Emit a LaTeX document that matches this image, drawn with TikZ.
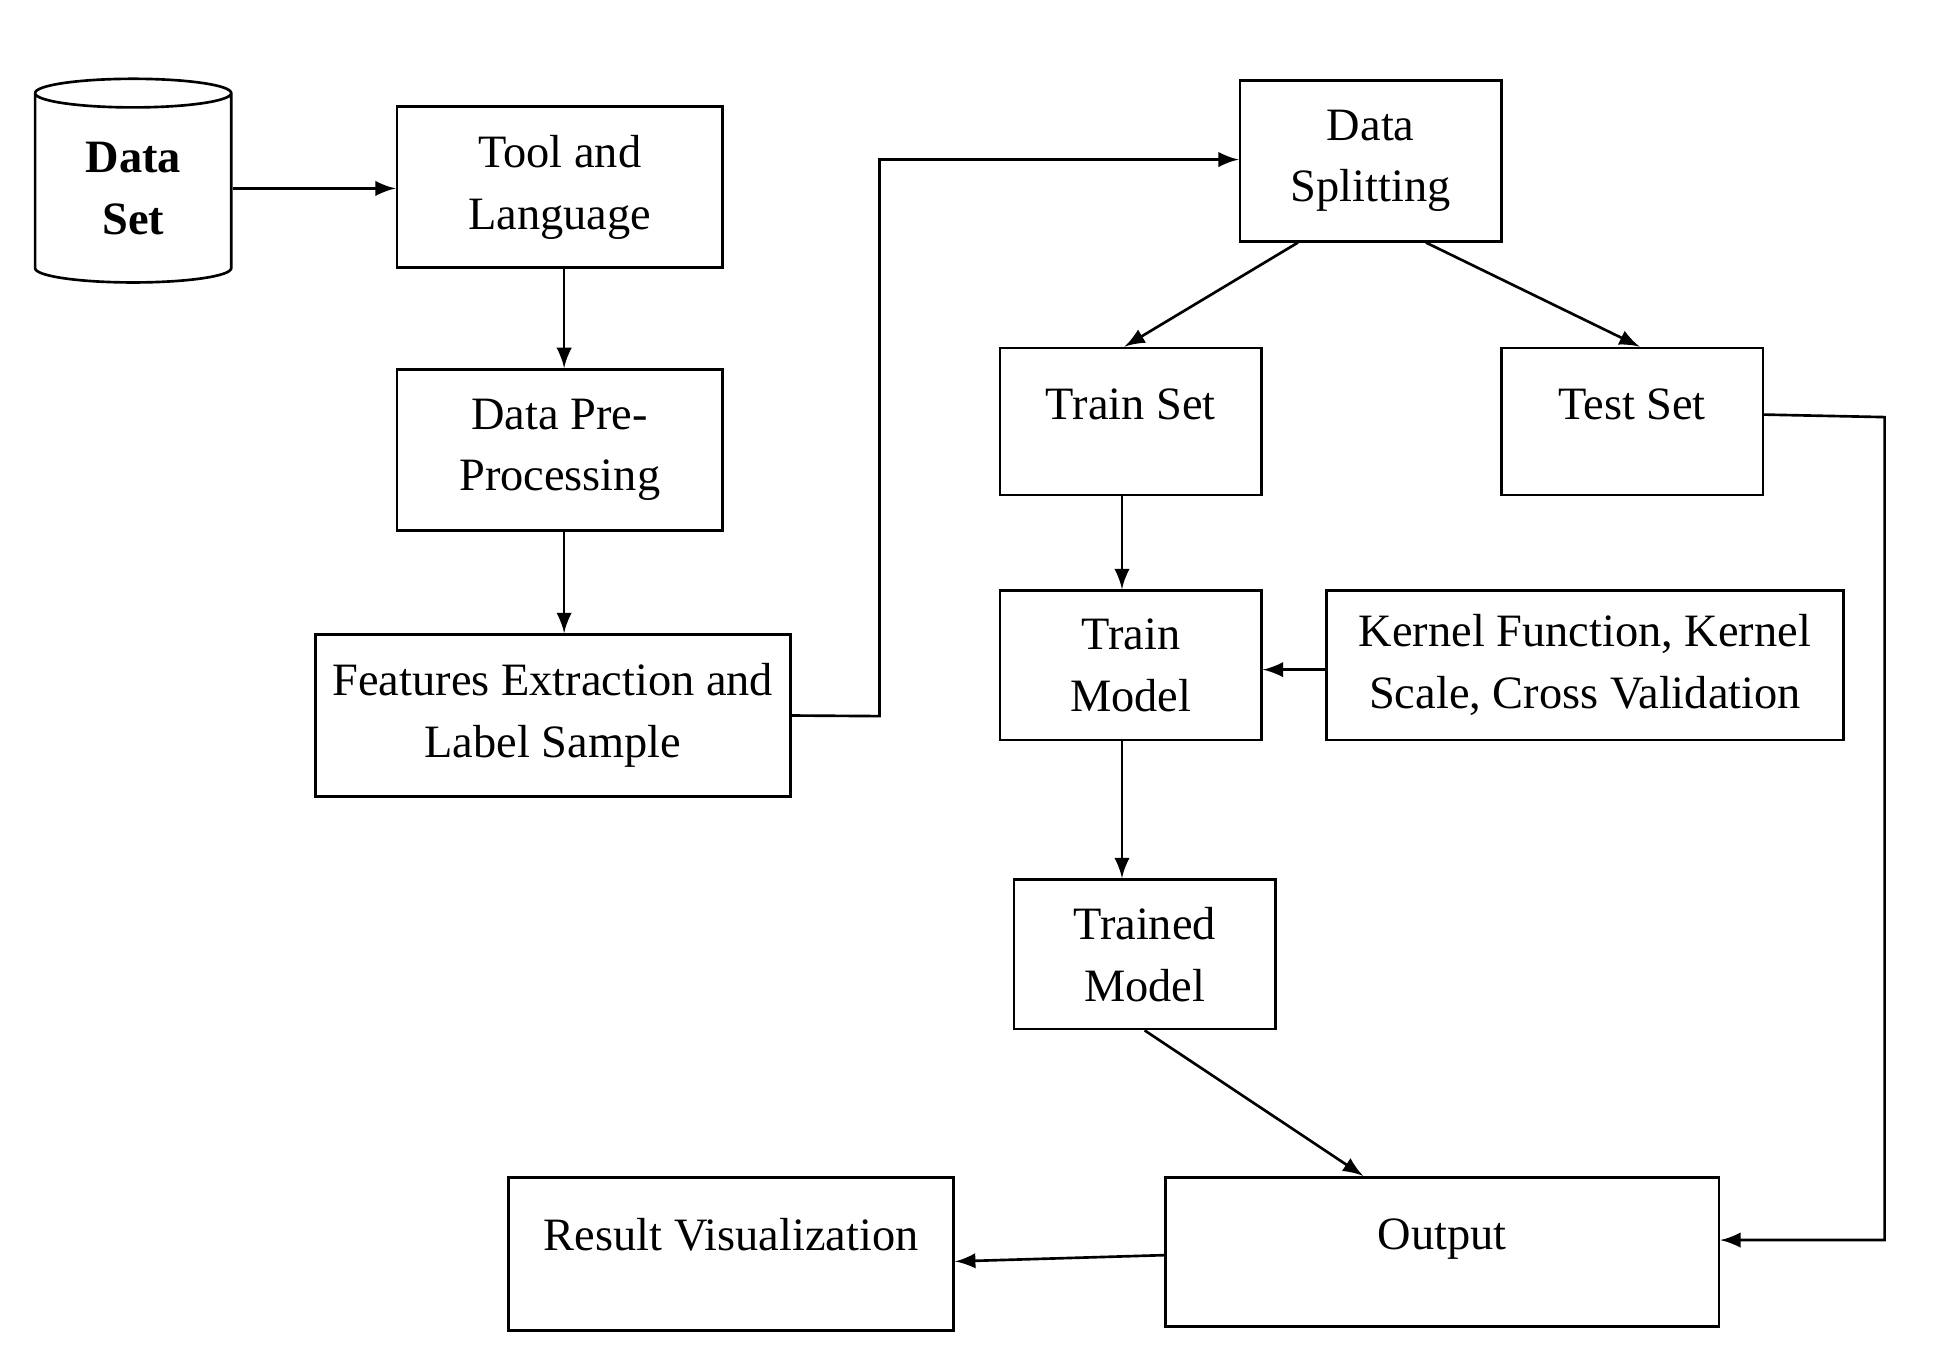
\documentclass[tikz,border=0pt]{standalone}
\usepackage{fontspec}
\setmainfont{Liberation Serif}
\usetikzlibrary{arrows,shapes.geometric}

\begin{document}
\begin{tikzpicture}[x=0.01cm,y=-0.01cm,->,>=latex,semithick,
                    txt/.style={font=\fontsize{10.5}{14}\selectfont},
                    box/.style={draw,-,rectangle,align=center,inner sep=0pt,txt},
                    topbox/.style={box,label={[anchor=north,yshift=-6pt,txt]north:#1}},
                    db/.style={draw,-,cylinder,shape border rotate=90,aspect=0.3,
                               minimum width=1.56cm,minimum height=1.62cm,align=center,
                               inner sep=0pt,font=\fontsize{10.5}{14}\selectfont\bfseries}]
  \useasboundingbox (0,0) rectangle (1560,1083);

  \node[db]  (data)   at (106,150)   {Data\\Set};
  \node[box,minimum width=2.59cm,minimum height=1.28cm] (tool)   at (445.5,149) {Tool and\\Language};
  \node[box,minimum width=2.59cm,minimum height=1.28cm] (prep)   at (445.5,358) {Data Pre-\\Processing};
  \node[box,minimum width=3.78cm,minimum height=1.29cm] (feat)   at (440,569.5) {Features Extraction and\\Label Sample};
  \node[box,minimum width=2.08cm,minimum height=1.28cm] (split)  at (1091,128)  {Data\\Splitting};
  \node[topbox=Train Set,minimum width=2.08cm,minimum height=1.17cm] (trainset) at (900,335.5) {};
  \node[topbox=Test Set,minimum width=2.08cm,minimum height=1.17cm] (testset)  at (1299,335.5) {};
  \node[box,minimum width=2.08cm,minimum height=1.19cm] (train)  at (900,529.5)  {Train\\Model};
  \node[box,minimum width=4.11cm,minimum height=1.19cm] (kernel) at (1261.5,529.5) {Kernel Function, Kernel\\Scale, Cross Validation};
  \node[box,minimum width=2.08cm,minimum height=1.19cm] (trained) at (911,759.5) {Trained\\Model};
  \node[topbox=Output,minimum width=4.40cm,minimum height=1.19cm] (output) at (1148,996.5) {};
  \node[topbox=Result Visualization,minimum width=3.54cm,minimum height=1.22cm] (result) at (582,998) {};

  \draw (data.east) -- (tool.west |- data.east);
  \draw (tool.south -| 449,0) -- (prep.north -| 449,0);
  \draw (prep.south -| 449,0) -- (feat.north -| 449,0);
  \draw (feat.east) -- (700,570) -- (700,127) -- (split.west |- 0,127);
  \draw (split.south -| 1033,0) -- (trainset.north -| 895,0);
  \draw (split.south -| 1135,0) -- (testset.north -| 1305,0);
  \draw (trainset.south -| 893,0) -- (train.north -| 893,0);
  \draw (kernel.west |- 0,533) -- (train.east |- 0,533);
  \draw (train.south -| 893,0) -- (trained.north -| 893,0);
  \draw (trained.south) -- (output.north -| 1085,0);
  \draw (testset.east |- 0,330) -- (1500,332) -- (1500,987) -- (output.east |- 0,987);
  \draw (output.west |- 0,999) -- (result.east |- 0,1004);
\end{tikzpicture}
\end{document}
